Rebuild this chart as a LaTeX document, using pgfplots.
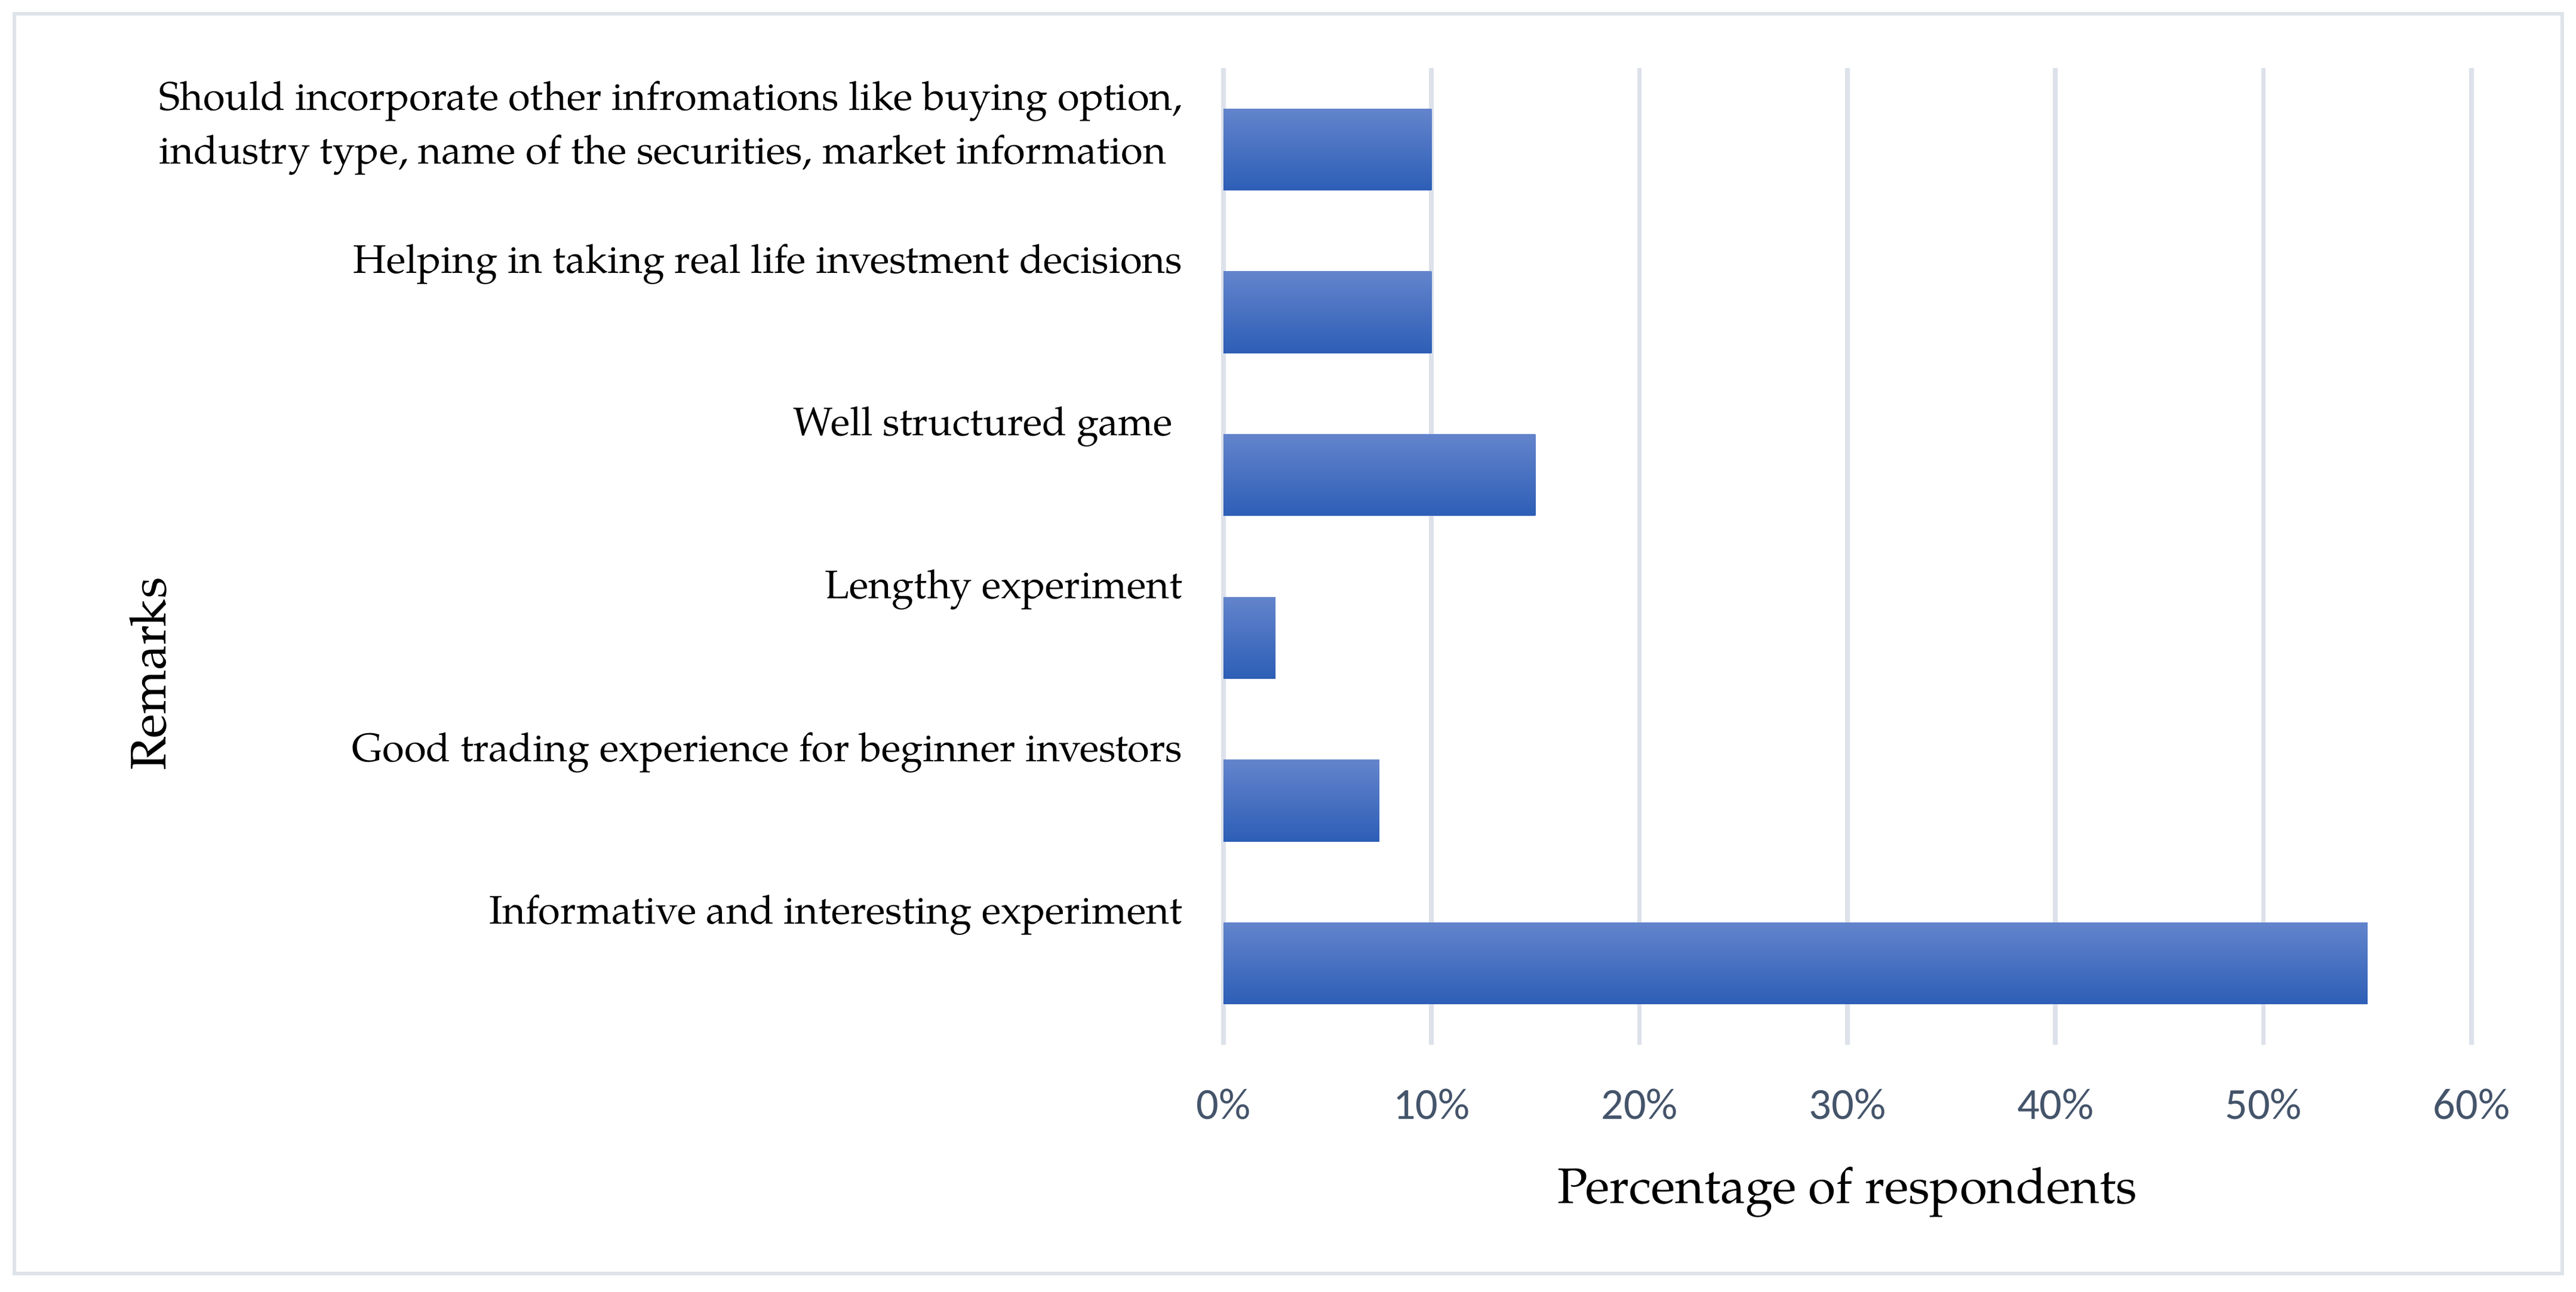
\documentclass[border=0pt]{standalone}
\usepackage{fontspec}
\setmainfont{TeX Gyre Pagella}
\newfontfamily\carlito{Carlito}
\usepackage{pgfplots}
\pgfplotsset{compat=1.18}
\definecolor{gridc}{HTML}{DDE1EA}
\definecolor{framec}{HTML}{DFE3EB}
\definecolor{tickc}{HTML}{44546A}
\definecolor{bartop}{HTML}{6384CC}
\definecolor{barmid}{HTML}{4472C6}
\definecolor{barbot}{HTML}{2D5EB6}
\pgfplotsset{gradbar/.style={draw=none, bar shift=0pt, top color=bartop, middle color=barmid, bottom color=barbot}}
\begin{document}
\begin{tikzpicture}
\useasboundingbox (-372.37pt,-75.24pt) rectangle (411.63pt,318.03pt);
\begin{axis}[
  at={(0,0)}, anchor=south west,
  scale only axis,
  width=379.82pt, height=297.32pt,
  xbar, bar width=0.5,
  xmin=0, xmax=60,
  ymin=-0.5, ymax=5.5,
  xtick={0,10,20,30,40,50,60},
  xticklabel={\pgfmathprintnumber{\tick}\%},
  ytick={0,1,2,3,4,5},
  yticklabels={Informative and interesting experiment,
    Good trading experience for beginner investors,
    Lengthy experiment,
    Well structured game\kern3pt,
    Helping in taking real life investment decisions,
    {Should incorporate other infromations like buying option,\\industry type, name of the securities, market information}},
  /pgf/number format/assume math mode=true,
  axis lines*=left,
  axis line style={draw=none},
  major tick length=0pt,
  tick style={draw=none},
  xmajorgrids,
  grid style={color=gridc, line width=1.4pt},
  xticklabel style={font=\carlito\fontsize{13.5}{16}\selectfont, text=tickc, inner sep=0pt, anchor=north, yshift=-13.3pt},
  yticklabel style={font=\fontsize{12.15}{16.4}\selectfont, align=left, inner sep=0pt, anchor=north east, xshift=-12.3pt, yshift=21pt},
  xlabel={Percentage of respondents},
  xlabel style={font=\fontsize{15.2}{18}\selectfont, at={(axis description cs:0.5,-0.162)}, anchor=base},
  ylabel={Remarks},
  ylabel style={font=\fontsize{15.2}{18}\selectfont, at={(axis description cs:-0.8617,0.3796)}, anchor=center},
]
\addplot[gradbar] coordinates {(55,0)};
\addplot[gradbar] coordinates {(7.5,1)};
\addplot[gradbar] coordinates {(2.5,2)};
\addplot[gradbar] coordinates {(15,3)};
\addplot[gradbar] coordinates {(10,4)};
\addplot[gradbar] coordinates {(10,5)};
\end{axis}
\draw[color=framec, line width=1.1pt] (-368.0pt,-69.6pt) rectangle (407.4pt,313.85pt);
\end{tikzpicture}
\end{document}
